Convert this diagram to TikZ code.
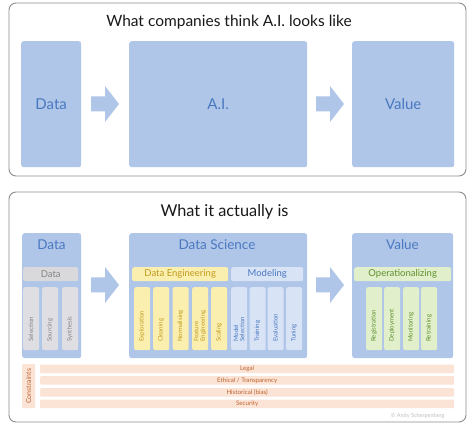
\documentclass[tikz,border=0pt]{standalone}
\usepackage{fontspec}
\setmainfont{Lato}
\usetikzlibrary{positioning}
\definecolor{boxblue}{HTML}{AFC6E9}
\definecolor{txtblue}{HTML}{4A78C0}
\definecolor{subgray}{HTML}{D9D9DB}
\definecolor{txtgray}{HTML}{858585}
\definecolor{bargray}{HTML}{DEDEE3}
\definecolor{subyel}{HTML}{FBEFB0}
\definecolor{txtyel}{HTML}{C09A1E}
\definecolor{barblue}{HTML}{D8E3F5}
\definecolor{subgreen}{HTML}{E1EFCB}
\definecolor{txtgreen}{HTML}{5E8F2E}
\definecolor{barorange}{HTML}{FBE3D5}
\definecolor{txtorange}{HTML}{BF6430}
\definecolor{framegray}{HTML}{8C8C8C}
\tikzset{
  frame/.style={draw=framegray, line width=0.9pt, rounded corners=7pt, fill=white},
  blk/.style={fill=boxblue, rounded corners=2.5pt, inner sep=0pt},
  arr/.style={fill=boxblue},
  sub/.style={rounded corners=2pt, inner sep=0pt, font=\fontsize{9.5}{10}\selectfont},
  bar/.style={rounded corners=2pt, inner sep=0pt},
  bartxt/.style={rotate=90, anchor=west, inner sep=0pt, align=left, font=\fontsize{6.1}{6.4}\selectfont},
  ctxt/.style={inner sep=0pt, text=txtorange, font=\fontsize{6.2}{7}\selectfont},
  ttl/.style={text=black!90},
}
% box by corners: name, x1, y1, x2, y2, style, text
\newcommand{\bx}[7]{%
  \node[#6, minimum width=#4pt-#2pt, minimum height=#5pt-#3pt, anchor=north west] (#1) at (#2,#3) {#7};}
\newcommand{\arrowshape}[3]{% x1, ytop, ybottom
  \pgfmathsetmacro{\mid}{(#2+#3)/2}
  \fill[arr] (#1,\mid-7.5) -- (#1+14,\mid-7.5) -- (#1+14,#2) -- (#1+28,\mid) -- (#1+14,#3) -- (#1+14,\mid+7.5) -- (#1,\mid+7.5) -- cycle;}
\begin{document}
\begin{tikzpicture}[x=1pt,y=-1pt]
\useasboundingbox (0,0) rectangle (474,430);
% ---------- top panel
\draw[frame] (9,3) rectangle (466,176);
\node[ttl, font=\fontsize{15.5}{18}\selectfont] (t1) at (229,22) {What companies think A.I. looks like};
\bx{d1}{21}{41}{81}{167}{blk}{}
\bx{ai}{129}{41}{307}{167}{blk}{}
\bx{v1}{352}{41}{454}{167}{blk}{}
\node[text=txtblue, font=\fontsize{15}{18}\selectfont] at (d1.center) {Data};
\node[text=txtblue, font=\fontsize{15}{18}\selectfont] at (ai.center) {A.I.};
\node[text=txtblue, font=\fontsize{15}{18}\selectfont] at (v1.center) {Value};
\arrowshape{91}{86}{122}
\arrowshape{316}{86}{122}
% ---------- bottom panel
\draw[frame] (9,192) rectangle (466,422);
\node[ttl, font=\fontsize{16.3}{19}\selectfont] (t2) at (224.5,212) {What it actually is};
\bx{dcol}{22}{233}{81}{358}{blk}{}
\bx{dscol}{129}{233}{307}{358}{blk}{}
\bx{vcol}{352}{233}{453}{358}{blk}{}
\node[text=txtblue, font=\fontsize{13.5}{16}\selectfont] (h1) at (51.5,245) {Data};
\node[text=txtblue, font=\fontsize{13.5}{16}\selectfont] (h2) at (217,245) {Data Science};
\node[text=txtblue, font=\fontsize{13.5}{16}\selectfont] (h3) at (402.5,245) {Value};
\arrowshape{91}{267}{303}
\arrowshape{316}{267}{303}
% sub headers
\bx{sdata}{23}{267}{78}{281}{sub, fill=subgray, text=txtgray}{Data}
\bx{sde}{132}{267}{228}{281}{sub, fill=subyel, text=txtyel}{Data Engineering}
\bx{smod}{231}{267}{303}{281}{sub, fill=barblue, text=txtblue}{Modeling}
\bx{sop}{354}{267}{451}{281}{sub, fill=subgreen, text=txtgreen}{Operationalizing}
% gray bars
\foreach \x/\t [count=\i] in {23/Selection,42/Sourcing,62/Synthesis}{
  \bx{g\i}{\x}{287}{\x+16}{350}{bar, fill=bargray}{}
  \node[bartxt, text=txtgray] at (\x+8,342) {\t};
}
% yellow bars
\foreach \x/\t [count=\i] in {134/Exploration,153/Cleaning,172.5/Normalising,192/{Feature\\Engineering},211/Scaling}{
  \bx{y\i}{\x}{287}{\x+16}{350}{bar, fill=subyel}{}
  \node[bartxt, text=txtyel] at (\x+8,342) {\t};
}
% blue bars
\foreach \x/\t [count=\i] in {231/{Model\\Selection},249.5/Training,267.5/Evaluation,286/Tuning}{
  \bx{b\i}{\x}{287}{\x+16}{350}{bar, fill=barblue}{}
  \node[bartxt, text=txtblue] at (\x+8,342) {\t};
}
% green bars
\foreach \x/\t [count=\i] in {366/Registration,384/Deployment,403/Monitoring,421/Retraining}{
  \bx{gr\i}{\x}{287}{\x+16}{350}{bar, fill=subgreen}{}
  \node[bartxt, text=txtgreen] at (\x+8,342) {\t};
}
% constraints
\bx{cons}{22}{364}{35}{408}{bar, rounded corners=1pt, fill=barorange}{}
\node[rotate=90, ctxt, font=\fontsize{7}{8}\selectfont] at (cons.center) {Constraints};
\bx{c1}{40}{364.5}{454}{373}{bar, rounded corners=1pt, fill=barorange, ctxt}{Legal}
\bx{c2}{40}{376}{454}{384.5}{bar, rounded corners=1pt, fill=barorange, ctxt}{Ethical / Transparency}
\bx{c3}{40}{388}{454}{396.5}{bar, rounded corners=1pt, fill=barorange, ctxt}{Historical (bias)}
\bx{c4}{40}{399.5}{454}{408}{bar, rounded corners=1pt, fill=barorange, ctxt}{Security}
\node[text=black!25, font=\fontsize{5.5}{6}\selectfont, anchor=east] (copy) at (448,416) {© Andy Scherpenberg};
\end{tikzpicture}
\end{document}
